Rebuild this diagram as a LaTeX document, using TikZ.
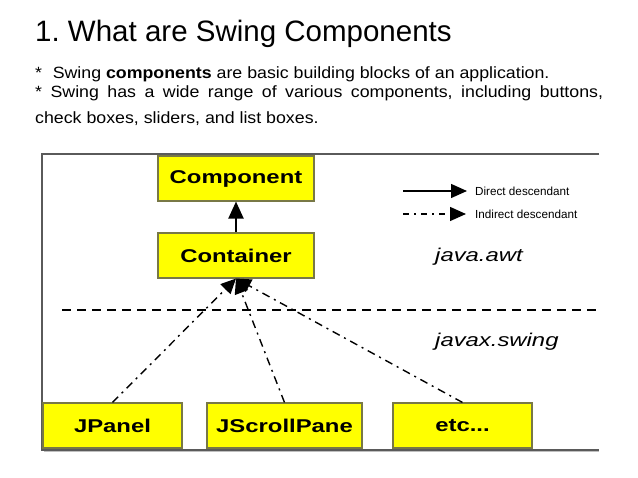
\documentclass[tikz,border=0pt]{standalone}
\usepackage{fontspec}
\setmainfont{Liberation Sans}
\usetikzlibrary{arrows.meta}
\frenchspacing
\definecolor{boxyellow}{RGB}{255,255,0}
\definecolor{boxedge}{RGB}{120,120,70}
\definecolor{framegray}{RGB}{90,90,90}
\tikzset{
  classbox/.style={draw=boxedge, line width=1.1pt, fill=boxyellow, minimum height=45pt, inner sep=0pt},
  classtext/.style={font=\fontsize{18.5}{20}\selectfont\bfseries},
  dashdotline/.style={line width=1.4pt, dash pattern=on 8pt off 5pt on 2pt off 5pt},
  headtip/.style={-{Triangle[length=15pt,width=14pt]}},
  pkglabel/.style={anchor=base west, inner sep=0pt, font=\fontsize{18.5}{20}\selectfont\itshape},
  legendtext/.style={anchor=west, inner sep=0pt, font=\fontsize{11.7}{13}\selectfont},
  bodytext/.style={anchor=base west, inner sep=0pt, font=\fontsize{16.3}{19}\selectfont}
}
\newcommand{\wide}[1]{\scalebox{1.29}[1]{#1}}
\newcommand{\bodywide}[1]{\scalebox{1.09}[1]{#1}}
\begin{document}
\begin{tikzpicture}[x=1pt,y=-1pt]
\useasboundingbox (0,0) rectangle (638,478);
% title and text
\node[anchor=base west, inner sep=0pt, font=\fontsize{29.5}{36}\selectfont] (title) at (35,42) {1. What are Swing Components};
\node[bodytext] (l1) at (35,79) {\bodywide{*\hspace{0.6em}Swing \textbf{components} are basic building blocks of an application.}};
\node[bodytext] (l2) at (35,98) {\bodywide{\makebox[521pt][s]{* Swing has a wide range of various components, including buttons,}}};
\node[bodytext] (l3) at (35,124) {\bodywide{check boxes, sliders, and list boxes.}};
% frame
\draw[framegray, line width=1.2pt] (599,154) -- (42,154) -- (42,450) -- (599,450);
\draw[black!25, line width=1pt] (44,452) -- (599,452);
% separator
\draw[line width=1.6pt, dash pattern=on 9pt off 6pt] (62,310) -- (598,310);
% boxes
\node[classbox, minimum width=156pt] (component) at (236,178.5) {};
\node[classtext] at (component.center) {\wide{Component}};
\node[classbox, minimum width=156pt] (container) at (236,255.5) {};
\node[classtext] at (container.center) {\wide{Container}};
\node[classbox, minimum width=139pt] (jpanel) at (112.5,425.5) {};
\node[classtext] at (jpanel.center) {\wide{JPanel}};
\node[classbox, minimum width=155pt] (jscroll) at (284.5,425.5) {};
\node[classtext] at (jscroll.center) {\wide{JScrollPane}};
\node[classbox, minimum width=139pt] (etc) at (462.5,425.5) {};
\node[classtext] at (etc.center) {\wide{etc...}};
% connectors
\draw[line width=2pt, -{Triangle[length=17pt,width=15pt]}] (container.north) -- (component.south);
\draw[dashdotline, headtip] (jpanel.north) -- (container.south);
\draw[dashdotline, headtip] (jscroll.north) -- (container.south);
\draw[dashdotline, headtip] (etc.north) -- (container.south);
% legend
\coordinate (d1) at (403,191);
\coordinate (d2) at (467,191);
\coordinate (i1) at (403,214);
\coordinate (i2) at (466,214);
\draw[line width=1.4pt, -{Triangle[length=16pt,width=14pt]}] (d1) -- (d2);
\draw[line width=1.4pt, dash pattern=on 6pt off 5pt on 2pt off 5pt, -{Triangle[length=16pt,width=14pt]}] (i1) -- (i2);
\node[legendtext] (dl) at (475,191) {Direct descendant};
\node[legendtext] (il) at (475,214) {Indirect descendant};
% package labels
\node[pkglabel] (awt) at (435,262) {\wide{java.awt}};
\node[pkglabel] (swing) at (435,347) {\wide{javax.swing}};
\end{tikzpicture}
\end{document}
